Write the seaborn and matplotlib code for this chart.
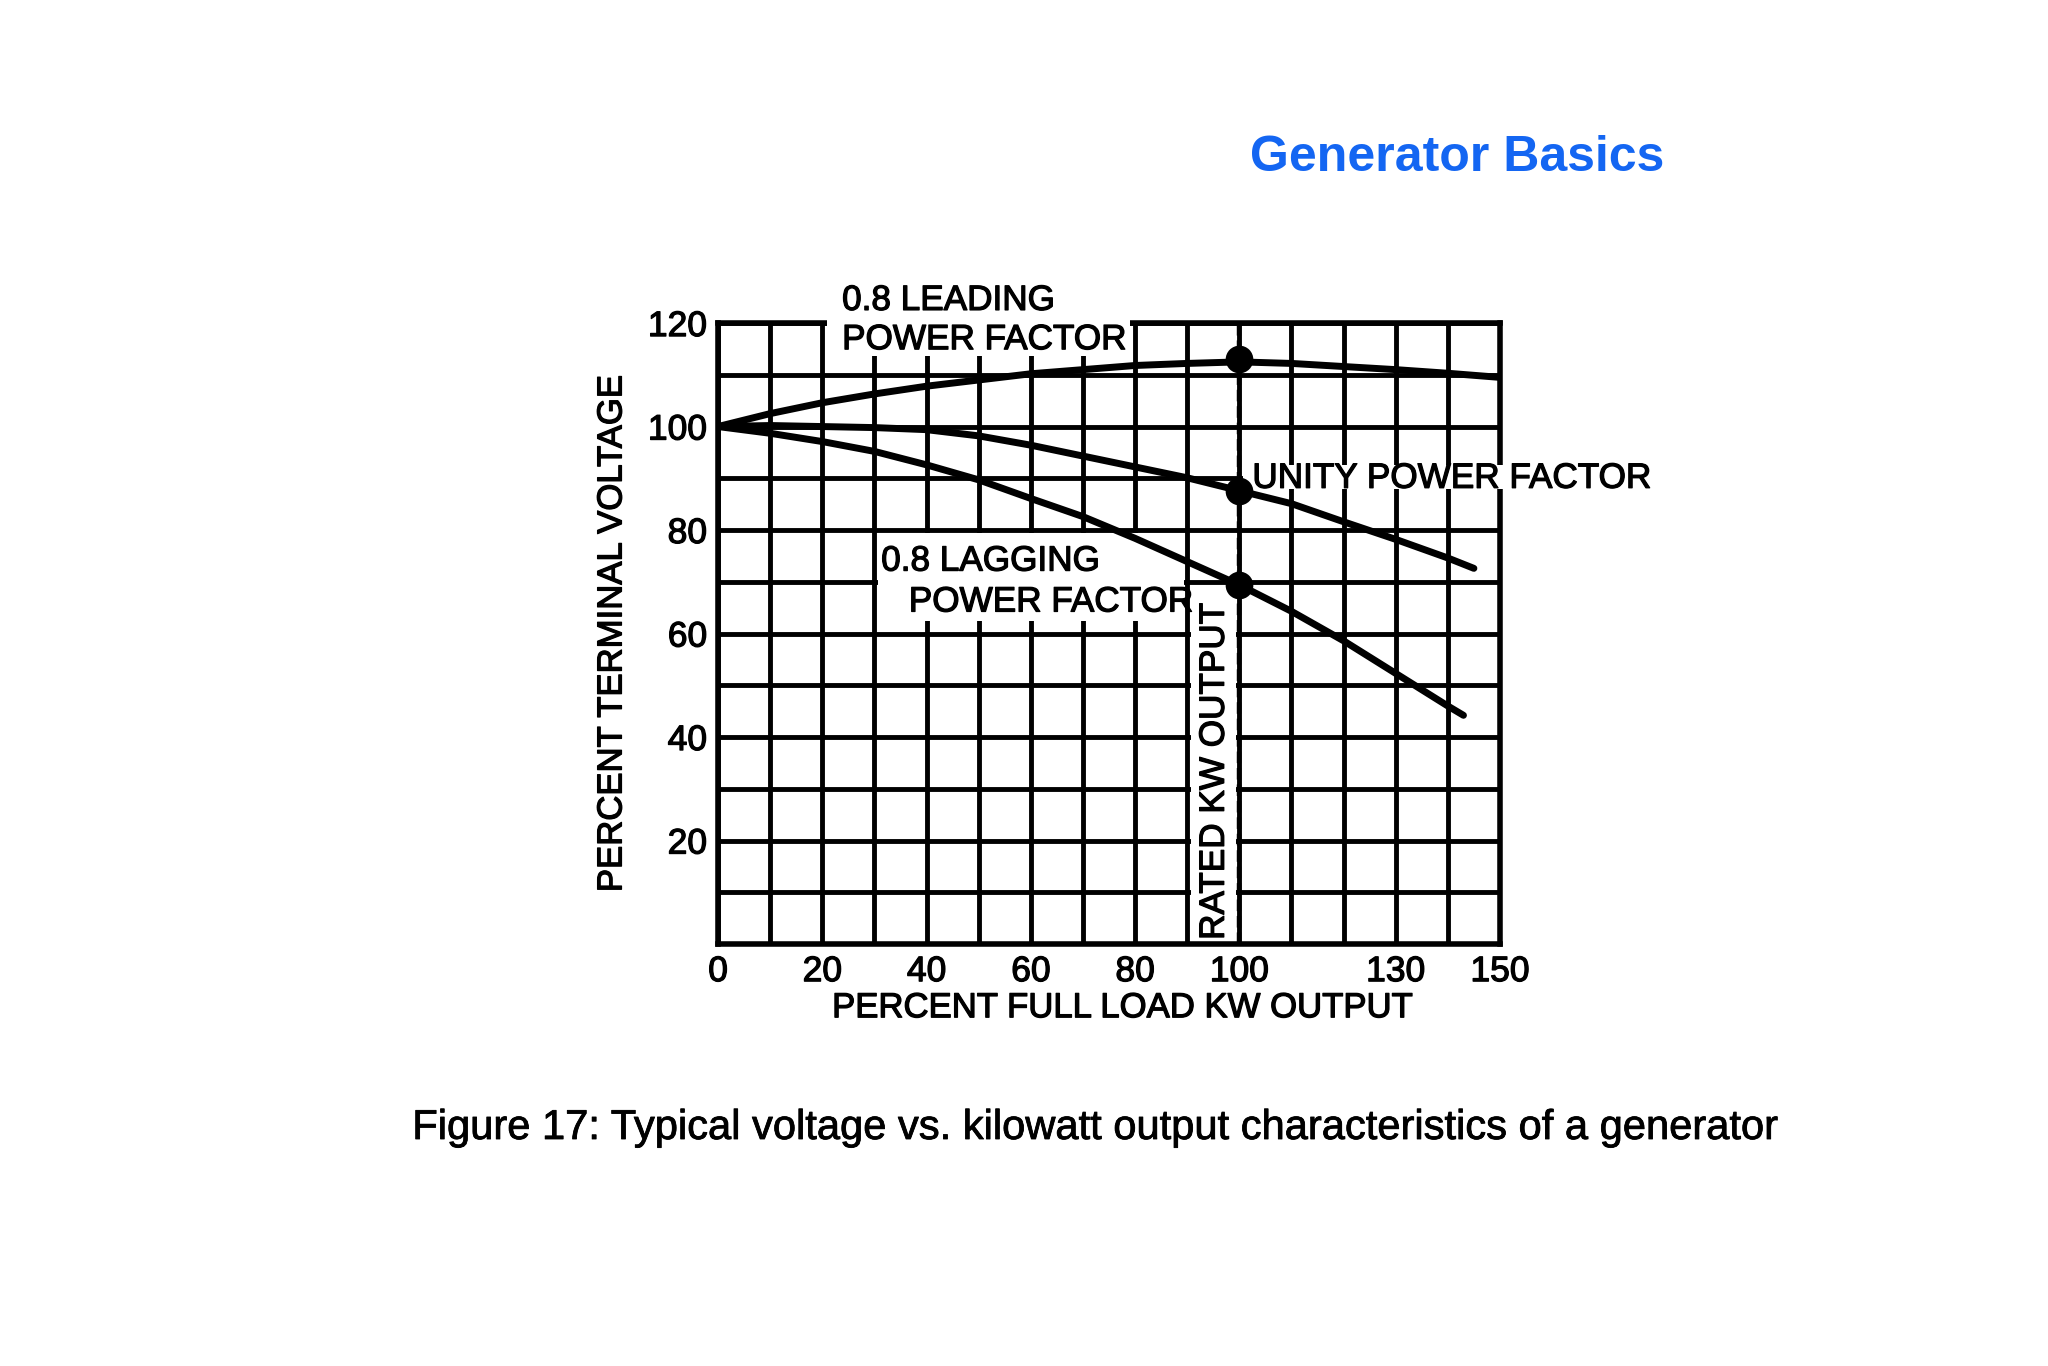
import numpy as np
import pandas as pd
import matplotlib
matplotlib.use("Agg")
import matplotlib.pyplot as plt
import matplotlib.patheffects as pe
from matplotlib.patches import Rectangle
import seaborn as sns

# ---- data ----
load_leading = [0, 10, 20, 30, 40, 50, 60, 70, 80, 90, 100, 110, 120, 130, 140, 150]
volt_leading = [100, 102.5, 104.6, 106.3, 107.8, 109.0, 110.2, 111.0, 111.8, 112.2, 112.5, 112.2, 111.6, 111.0, 110.3, 109.5]

load_unity = [0, 10, 20, 30, 40, 50, 60, 70, 80, 90, 100, 110, 120, 130, 140, 145]
volt_unity = [100, 100.2, 100.0, 99.8, 99.4, 98.2, 96.4, 94.3, 92.2, 90.1, 87.6, 85.1, 81.6, 78.2, 74.6, 72.6]

load_lagging = [0, 10, 20, 30, 40, 50, 60, 70, 80, 90, 100, 110, 120, 130, 140, 143]
volt_lagging = [100, 98.7, 97.1, 95.2, 92.6, 89.7, 86.1, 82.6, 78.4, 73.9, 69.4, 64.3, 58.6, 52.3, 46.0, 44.2]

rated_load = 100
rated_points_load = [100, 100, 100]
rated_points_volt = [113.0, 87.6, 69.4]

x_ticks = list(range(0, 151, 10))
x_labels = {0: "0", 20: "20", 40: "40", 60: "60", 80: "80", 100: "100", 130: "130", 150: "150"}
y_ticks = list(range(0, 121, 10))
y_labels = {20: "20", 40: "40", 60: "60", 80: "80", 100: "100", 120: "120"}

title = "Generator Basics"
caption = "Figure 17: Typical voltage vs. kilowatt output characteristics of a generator"

df = pd.concat([
    pd.DataFrame({"load": load_leading, "volt": volt_leading, "pf": "lead"}),
    pd.DataFrame({"load": load_unity, "volt": volt_unity, "pf": "unity"}),
    pd.DataFrame({"load": load_lagging, "volt": volt_lagging, "pf": "lag"}),
])

sns.set_theme(style="white")
plt.rcParams["font.family"] = ["Liberation Sans", "DejaVu Sans"]

heavy = [pe.withStroke(linewidth=0.9, foreground="black")]

fig = plt.figure(figsize=(20.48, 13.66), dpi=100)
fig.patch.set_facecolor("white")
ax = fig.add_axes([0.3506, 0.3089, 0.3818, 0.4546])

GRID_LW = 3.5
ax.set_xlim(0, 150)
ax.set_ylim(0, 120)
ax.set_xticks(x_ticks)
ax.set_xticklabels([x_labels.get(t, "") for t in x_ticks])
ax.set_yticks(y_ticks)
ax.set_yticklabels([y_labels.get(t, "") for t in y_ticks])
ax.tick_params(axis="both", length=0, labelsize=25.5, colors="black")
ax.tick_params(axis="x", pad=8)
ax.tick_params(axis="y", pad=8)
for lab in ax.get_xticklabels() + ax.get_yticklabels():
    lab.set_path_effects(heavy)
ax.set_axisbelow(True)
ax.grid(True, color="black", linewidth=GRID_LW)
for s in ax.spines.values():
    s.set_visible(True)
    s.set_color("black")
    s.set_linewidth(4.0)

# white masks behind the labels (cover grid lines)
masks = [
    (21.0, 113.6, 58.0, 16.0),   # leading label
    (30.7, 62.4, 58.6, 17.0),    # lagging label
    (90.7, 0.5, 8.6, 67.5),      # rated kW label
    (100.7, 87.9, 80.0, 4.6),    # unity label
]
for (mx, my, mw, mh) in masks:
    ax.add_patch(Rectangle((mx, my), mw, mh, facecolor="white", edgecolor="none",
                           zorder=2.6, clip_on=False))

ax.axvline(rated_load, color="black", linewidth=3.2, linestyle=(0, (2.6, 1.1)), zorder=2.8)

sns.lineplot(data=df, x="load", y="volt", units="pf", estimator=None, color="black",
             linewidth=5.0, ax=ax, zorder=3, legend=False, sort=False)
sns.scatterplot(x=rated_points_load, y=rated_points_volt, color="black", s=340,
                edgecolor="black", ax=ax, zorder=4, legend=False)

ax.set_xlabel("PERCENT FULL LOAD KW OUTPUT", fontsize=25, color="black",
              path_effects=heavy)
ax.xaxis.set_label_coords(0.517, -0.076)
ax.set_ylabel("PERCENT TERMINAL VOLTAGE", fontsize=25, labelpad=14, color="black",
              path_effects=heavy)

tk = dict(fontsize=25.3, color="black", zorder=5, clip_on=False, path_effects=heavy)
ax.text(23.8, 113.6, "0.8 LEADING\nPOWER FACTOR", ha="left", va="bottom", linespacing=1.24, **tk)
ax.text(31.3, 74.0, "0.8 LAGGING", ha="left", va="center", **tk)
ax.text(36.6, 66.1, "POWER FACTOR", ha="left", va="center", **tk)
ax.text(102.5, 90.0, "UNITY POWER FACTOR", ha="left", va="center", **tk)
ax.text(95.2, 0.8, "RATED KW OUTPUT", ha="center", va="bottom", rotation=90, **tk)

fig.text(1457 / 2048, 1 - 158 / 1366, title, ha="center", va="center",
         fontsize=36, fontweight="bold", color="#1466F2")
fig.text(1094 / 2048, 1 - 1128 / 1366, caption, ha="center", va="center",
         fontsize=30, color="black", path_effects=[pe.withStroke(linewidth=0.6, foreground="black")])

fig.savefig("out.png", dpi=100, facecolor="white")
